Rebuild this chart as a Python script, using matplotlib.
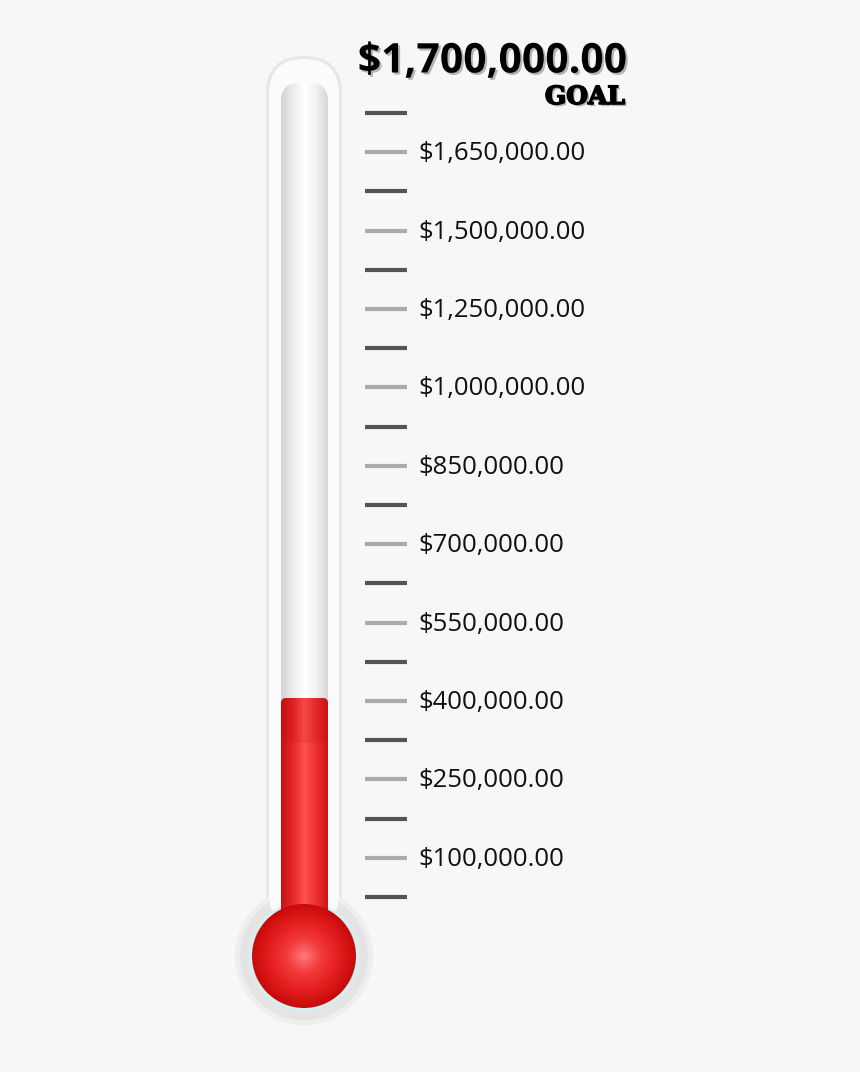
import numpy as np
import matplotlib
matplotlib.use("Agg")
import matplotlib.pyplot as plt
from matplotlib.patches import FancyBboxPatch, Circle
from matplotlib.colors import LinearSegmentedColormap
from matplotlib import patheffects

# data
goal = 1700000
raised = 400000
label_values = [1650000, 1500000, 1250000, 1000000, 850000,
                700000, 550000, 400000, 250000, 100000]
goal_word = "GOAL"

bg = "#f7f7f7"

fig = plt.figure(figsize=(8.6, 10.72), dpi=100, facecolor=bg)
ax = fig.add_axes([0, 0, 1, 1])
ax.set_facecolor(bg)

# layout in pixels
cx = 304
top_tick = 113
step = 78.4
major_y = top_tick + step * np.arange(len(label_values) + 1)
label_y = major_y[:-1] + step / 2
bulb_y = 956
bulb_r = 52

# mercury level from the scale
level = np.interp(raised, label_values[::-1], label_y[::-1]) - 3


def hgrad(colors, x0, x1, y0, y1, clip, z):
    cmap = LinearSegmentedColormap.from_list("g", colors)
    img = np.linspace(0, 1, 256)[None, :]
    im = ax.imshow(img, cmap=cmap, extent=(x0, x1, y1, y0), aspect="auto",
                   zorder=z, interpolation="bilinear")
    im.set_clip_path(clip)
    return im


# glass halo
halo = FancyBboxPatch((266, 56), 76, 880, boxstyle="round,pad=0,rounding_size=38",
                      fc="#e6e6e6", ec="none", zorder=1)
ax.add_patch(halo)
ax.add_patch(Circle((cx, bulb_y), 69, fc="#eeeeee", ec="none", zorder=1))
ax.add_patch(Circle((cx, bulb_y), 64, fc="#e4e4e4", ec="none", zorder=1.1))
glass = FancyBboxPatch((269, 59), 70, 870, boxstyle="round,pad=0,rounding_size=35",
                       fc="#fbfbfb", ec="none", zorder=1.2)
ax.add_patch(glass)
ax.add_patch(Circle((cx, bulb_y), 55, fc="#d4f0f0", ec="none", zorder=1.3))

# inner channel
chan = FancyBboxPatch((281, 83), 47, 860, boxstyle="round,pad=0,rounding_size=18",
                      fc="none", ec="none", zorder=2)
ax.add_patch(chan)
hgrad(["#d2d2d2", "#ececec", "#ffffff", "#f2f2f2", "#d6d6d6"], 281, 328, 83, 943, chan, 2)

# mercury column
col = FancyBboxPatch((281, level), 47, bulb_y - level, boxstyle="round,pad=0,rounding_size=5",
                     fc="none", ec="none", zorder=3)
ax.add_patch(col)
hgrad(["#c81212", "#e42626", "#ff5252", "#ec3030", "#cc1616"], 281, 328, level, bulb_y, col, 3)
top_band = FancyBboxPatch((281, level), 47, 45, boxstyle="round,pad=0,rounding_size=5",
                          fc="#b00000", ec="none", alpha=0.12, zorder=3.5)
ax.add_patch(top_band)

# bulb
bulb = Circle((cx, bulb_y), bulb_r, fc="none", ec="none", zorder=4)
ax.add_patch(bulb)
g = np.linspace(-1, 1, 300)
xx, yy = np.meshgrid(g, g)
rr = np.clip(np.sqrt(xx**2 + yy**2), 0, 1)
bcmap = LinearSegmentedColormap.from_list("b", ["#ff7a7a", "#f23a3a", "#e41e1e", "#c80a0a"])
im = ax.imshow(rr, cmap=bcmap, vmin=0, vmax=1,
               extent=(cx - bulb_r, cx + bulb_r, bulb_y + bulb_r, bulb_y - bulb_r),
               aspect="auto", zorder=4, interpolation="bilinear")
im.set_clip_path(bulb)

# scale ticks
ax.hlines(major_y, 365, 407, colors="#555555", lw=3, capstyle="butt", zorder=5)
ax.hlines(label_y, 365, 407, colors="#ababab", lw=3, capstyle="butt", zorder=5)

for v, y in zip(label_values, label_y):
    ax.text(418, y + 1.5, f"${v:,.2f}", ha="left", va="center", fontsize=18.5,
            family=["Open Sans", "DejaVu Sans"], color="#111111", zorder=6)

shadow = [patheffects.SimplePatchShadow(offset=(1.5, -1.5), shadow_rgbFace="#888888", alpha=0.6),
          patheffects.Normal()]
ax.text(628, 62, f"${goal:,.2f}", ha="right", va="center", fontsize=29.5, fontweight="bold",
        family=["Open Sans", "DejaVu Sans"], color="#000000", path_effects=shadow, zorder=6)
goal_fx = [patheffects.SimplePatchShadow(offset=(1.5, -1.5), shadow_rgbFace="#888888", alpha=0.6),
           patheffects.withStroke(linewidth=1.2, foreground="#000000")]
ax.text(625, 97, goal_word, ha="right", va="center", fontsize=18, fontweight="bold",
        family=["DejaVu Serif"], color="#000000", path_effects=goal_fx, zorder=6)

ax.set_xlim(0, 860)
ax.set_ylim(1072, 0)
ax.axis("off")

fig.savefig("out.png", dpi=100, facecolor=bg)
